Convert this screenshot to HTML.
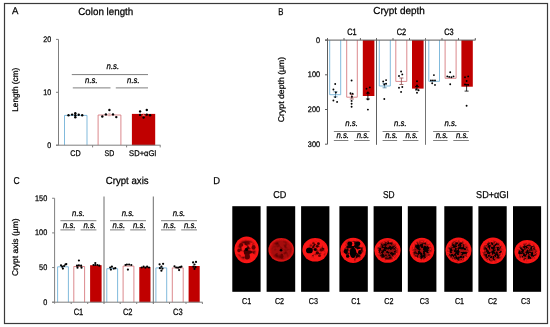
<!DOCTYPE html>
<html><head><meta charset="utf-8"><title>Figure</title>
<style>
html,body{margin:0;padding:0;background:#fff;}
body{width:550px;height:327px;overflow:hidden;}
svg{display:block;font-family:"Liberation Sans",sans-serif;text-rendering:geometricPrecision;}
</style></head><body>
<svg width="550" height="327" viewBox="0 0 550 327">
<defs>
<radialGradient id="g1" cx="50%" cy="50%" r="50%"><stop offset="0" stop-color="#e01010"/><stop offset="0.8" stop-color="#f01414"/><stop offset="0.93" stop-color="#ff1a1a"/><stop offset="1" stop-color="#a00808"/></radialGradient>
<radialGradient id="g2" cx="50%" cy="50%" r="50%"><stop offset="0" stop-color="#b00c0c"/><stop offset="0.7" stop-color="#c81010"/><stop offset="0.92" stop-color="#e81414"/><stop offset="1" stop-color="#900606"/></radialGradient>
<filter id="bl" x="-20%" y="-20%" width="140%" height="140%"><feGaussianBlur stdDeviation="0.55"/></filter>
<filter id="bl2" x="-20%" y="-20%" width="140%" height="140%"><feGaussianBlur stdDeviation="0.35"/></filter>
</defs>
<rect x="0" y="0" width="550" height="327" fill="#fff"/>
<rect x="4.5" y="3.5" width="543" height="320" fill="#fff" stroke="#3a3a3a" stroke-width="1.2"/>

<text x="12.1" y="14.3" font-size="9.8" text-anchor="start" fill="#000" stroke="#000" stroke-width="0.25" textLength="6.4" lengthAdjust="spacingAndGlyphs">A</text>
<text x="105.75" y="14.7" font-size="10.3" text-anchor="middle" fill="#000" stroke="#000" stroke-width="0.25" textLength="55" lengthAdjust="spacingAndGlyphs">Colon length</text>
<text x="17.8" y="89.75" font-size="8.3" text-anchor="middle" fill="#000" stroke="#000" stroke-width="0.25" textLength="44" lengthAdjust="spacingAndGlyphs" transform="rotate(-90 17.8 89.75)">Length (cm)</text>
<path d="M64.50 145.20V115.40H87.00V145.20" fill="none" stroke="#6aaed6" stroke-width="0.85"/>
<path d="M98.10 145.20V115.00H120.90V145.20" fill="none" stroke="#d57478" stroke-width="0.85"/>
<rect x="131.9" y="113.9" width="23.30" height="31.30" fill="#c00000"/>
<line x1="58.5" y1="39.4" x2="58.5" y2="145.2" stroke="#7f7f7f" stroke-width="1"/>
<line x1="56.0" y1="145.2" x2="160.5" y2="145.2" stroke="#7f7f7f" stroke-width="1"/>
<line x1="56.0" y1="145.2" x2="58.5" y2="145.2" stroke="#7f7f7f" stroke-width="1"/>
<text x="51.2" y="147.6" font-size="8.1" text-anchor="end" fill="#000" stroke="#000" stroke-width="0.25" textLength="3.95" lengthAdjust="spacingAndGlyphs">0</text>
<line x1="56.0" y1="92.3" x2="58.5" y2="92.3" stroke="#7f7f7f" stroke-width="1"/>
<text x="51.2" y="94.7" font-size="8.1" text-anchor="end" fill="#000" stroke="#000" stroke-width="0.25" textLength="7.9" lengthAdjust="spacingAndGlyphs">10</text>
<line x1="56.0" y1="39.400000000000006" x2="58.5" y2="39.400000000000006" stroke="#7f7f7f" stroke-width="1"/>
<text x="51.2" y="41.800000000000004" font-size="8.1" text-anchor="end" fill="#000" stroke="#000" stroke-width="0.25" textLength="7.9" lengthAdjust="spacingAndGlyphs">20</text>
<line x1="92.6" y1="145.2" x2="92.6" y2="147.39999999999998" stroke="#7f7f7f" stroke-width="1"/>
<line x1="126.6" y1="145.2" x2="126.6" y2="147.39999999999998" stroke="#7f7f7f" stroke-width="1"/>
<line x1="160.2" y1="145.2" x2="160.2" y2="147.39999999999998" stroke="#7f7f7f" stroke-width="1"/>
<circle cx="68.5" cy="115.2" r="1.2" fill="#000"/>
<circle cx="72.1" cy="114.6" r="1.2" fill="#000"/>
<circle cx="75.3" cy="113.3" r="1.2" fill="#000"/>
<circle cx="75.3" cy="115.2" r="1.2" fill="#000"/>
<circle cx="75.3" cy="117.3" r="1.2" fill="#000"/>
<circle cx="78.7" cy="114.7" r="1.2" fill="#000"/>
<circle cx="82.2" cy="115.2" r="1.2" fill="#000"/>
<line x1="109.4" y1="113.4" x2="109.4" y2="115.8" stroke="#c9a0a0" stroke-width="0.6"/>
<line x1="108.10000000000001" y1="113.4" x2="110.7" y2="113.4" stroke="#c9a0a0" stroke-width="0.6"/>
<line x1="108.10000000000001" y1="115.8" x2="110.7" y2="115.8" stroke="#c9a0a0" stroke-width="0.6"/>
<circle cx="102.3" cy="116.5" r="1.2" fill="#000"/>
<circle cx="105.9" cy="114.4" r="1.2" fill="#000"/>
<circle cx="109.4" cy="110" r="1.2" fill="#000"/>
<circle cx="113" cy="114.4" r="1.2" fill="#000"/>
<circle cx="116.3" cy="117.1" r="1.2" fill="#000"/>
<line x1="143.6" y1="113.2" x2="143.6" y2="115.6" stroke="#e9b0b0" stroke-width="0.6"/>
<line x1="142.29999999999998" y1="113.2" x2="144.9" y2="113.2" stroke="#e9b0b0" stroke-width="0.6"/>
<line x1="142.29999999999998" y1="115.6" x2="144.9" y2="115.6" stroke="#e9b0b0" stroke-width="0.6"/>
<circle cx="140.1" cy="111.4" r="1.2" fill="#000"/>
<circle cx="146.8" cy="110" r="1.2" fill="#000"/>
<circle cx="140.1" cy="114.9" r="1.2" fill="#000"/>
<circle cx="143.6" cy="117.6" r="1.2" fill="#000"/>
<circle cx="146.8" cy="114.6" r="1.2" fill="#000"/>
<circle cx="150.1" cy="115.2" r="1.2" fill="#000"/>
<line x1="71.8" y1="74.6" x2="148" y2="74.6" stroke="#7f7f7f" stroke-width="1"/>
<line x1="72.8" y1="87.9" x2="110.5" y2="87.9" stroke="#7f7f7f" stroke-width="1"/>
<line x1="115.8" y1="87.9" x2="148" y2="87.9" stroke="#7f7f7f" stroke-width="1"/>
<text x="112.9" y="69.3" font-size="8.7" text-anchor="middle" fill="#000" stroke="#000" stroke-width="0.25" font-style="italic" textLength="12.6" lengthAdjust="spacingAndGlyphs">n.s.</text>
<text x="91.4" y="82.5" font-size="8.7" text-anchor="middle" fill="#000" stroke="#000" stroke-width="0.25" font-style="italic" textLength="12.6" lengthAdjust="spacingAndGlyphs">n.s.</text>
<text x="133.4" y="82.5" font-size="8.7" text-anchor="middle" fill="#000" stroke="#000" stroke-width="0.25" font-style="italic" textLength="12.6" lengthAdjust="spacingAndGlyphs">n.s.</text>
<text x="75.4" y="156.4" font-size="8.2" text-anchor="middle" fill="#000" stroke="#000" stroke-width="0.25" textLength="10.4" lengthAdjust="spacingAndGlyphs">CD</text>
<text x="109.4" y="156.4" font-size="8.2" text-anchor="middle" fill="#000" stroke="#000" stroke-width="0.25" textLength="9.7" lengthAdjust="spacingAndGlyphs">SD</text>
<text x="142.8" y="156.4" font-size="8.2" text-anchor="middle" fill="#000" stroke="#000" stroke-width="0.25" textLength="27.4" lengthAdjust="spacingAndGlyphs">SD+αGI</text>
<text x="278.3" y="14.5" font-size="10" text-anchor="start" fill="#000" stroke="#000" stroke-width="0.25" textLength="5.2" lengthAdjust="spacingAndGlyphs">B</text>
<text x="399.1" y="14.35" font-size="10.1" text-anchor="middle" fill="#000" stroke="#000" stroke-width="0.25" textLength="51.5" lengthAdjust="spacingAndGlyphs">Crypt depth</text>
<text x="284.3" y="89.5" font-size="8.3" text-anchor="middle" fill="#000" stroke="#000" stroke-width="0.25" textLength="65.5" lengthAdjust="spacingAndGlyphs" transform="rotate(-90 284.3 89.5)">Crypt depth (µm)</text>
<path d="M329.70 40.10V94.70H340.70V40.10" fill="none" stroke="#6aaed6" stroke-width="0.85"/>
<path d="M346.70 40.10V97.20H357.30V40.10" fill="none" stroke="#d57478" stroke-width="0.85"/>
<rect x="362.8" y="40.1" width="11.60" height="55.90" fill="#c00000"/>
<path d="M379.30 40.10V86.00H390.30V40.10" fill="none" stroke="#6aaed6" stroke-width="0.85"/>
<path d="M395.80 40.10V81.40H406.80V40.10" fill="none" stroke="#d57478" stroke-width="0.85"/>
<rect x="412" y="40.1" width="11.60" height="48.50" fill="#c00000"/>
<path d="M428.80 40.10V81.30H439.50V40.10" fill="none" stroke="#6aaed6" stroke-width="0.85"/>
<path d="M445.10 40.10V78.30H456.10V40.10" fill="none" stroke="#d57478" stroke-width="0.85"/>
<rect x="461.4" y="40.1" width="11.40" height="46.60" fill="#c00000"/>
<line x1="327.5" y1="38.1" x2="327.5" y2="144.2" stroke="#5c5c5c" stroke-width="1"/>
<line x1="325.0" y1="40.1" x2="475.5" y2="40.1" stroke="#5c5c5c" stroke-width="1"/>
<line x1="325.0" y1="40.1" x2="327.5" y2="40.1" stroke="#5c5c5c" stroke-width="1"/>
<text x="320" y="42.5" font-size="8.1" text-anchor="end" fill="#000" stroke="#000" stroke-width="0.25" textLength="4.05" lengthAdjust="spacingAndGlyphs">0</text>
<line x1="325.0" y1="74.8" x2="327.5" y2="74.8" stroke="#5c5c5c" stroke-width="1"/>
<text x="320" y="77.2" font-size="8.1" text-anchor="end" fill="#000" stroke="#000" stroke-width="0.25" textLength="12.149999999999999" lengthAdjust="spacingAndGlyphs">100</text>
<line x1="325.0" y1="109.5" x2="327.5" y2="109.5" stroke="#5c5c5c" stroke-width="1"/>
<text x="320" y="111.9" font-size="8.1" text-anchor="end" fill="#000" stroke="#000" stroke-width="0.25" textLength="12.149999999999999" lengthAdjust="spacingAndGlyphs">200</text>
<line x1="325.0" y1="144.2" x2="327.5" y2="144.2" stroke="#5c5c5c" stroke-width="1"/>
<text x="320" y="146.6" font-size="8.1" text-anchor="end" fill="#000" stroke="#000" stroke-width="0.25" textLength="12.149999999999999" lengthAdjust="spacingAndGlyphs">300</text>
<line x1="344" y1="38.1" x2="344" y2="40.1" stroke="#5c5c5c" stroke-width="1"/>
<line x1="360.4" y1="38.1" x2="360.4" y2="40.1" stroke="#5c5c5c" stroke-width="1"/>
<line x1="393" y1="38.1" x2="393" y2="40.1" stroke="#5c5c5c" stroke-width="1"/>
<line x1="409.5" y1="38.1" x2="409.5" y2="40.1" stroke="#5c5c5c" stroke-width="1"/>
<line x1="442" y1="38.1" x2="442" y2="40.1" stroke="#5c5c5c" stroke-width="1"/>
<line x1="458.5" y1="38.1" x2="458.5" y2="40.1" stroke="#5c5c5c" stroke-width="1"/>
<line x1="475.3" y1="38.1" x2="475.3" y2="40.1" stroke="#5c5c5c" stroke-width="1"/>
<line x1="376.5" y1="38.1" x2="376.5" y2="144.8" stroke="#606060" stroke-width="1"/>
<line x1="425.5" y1="38.1" x2="425.5" y2="144.8" stroke="#747474" stroke-width="1"/>
<line x1="335.5" y1="91.8" x2="335.5" y2="96.8" stroke="#4d7f9e" stroke-width="0.8"/>
<line x1="333.5" y1="91.8" x2="337.5" y2="91.8" stroke="#4d7f9e" stroke-width="0.8"/>
<line x1="333.5" y1="96.8" x2="337.5" y2="96.8" stroke="#4d7f9e" stroke-width="0.8"/>
<circle cx="335.2" cy="84" r="0.95" fill="#000"/>
<circle cx="333.4" cy="89.5" r="0.95" fill="#000"/>
<circle cx="335.9" cy="92.5" r="0.95" fill="#000"/>
<circle cx="335.2" cy="97.1" r="0.95" fill="#000"/>
<circle cx="333.4" cy="100.5" r="0.95" fill="#000"/>
<circle cx="337.1" cy="101.9" r="0.95" fill="#000"/>
<line x1="351.8" y1="94.5" x2="351.8" y2="99" stroke="#8a4a4a" stroke-width="0.8"/>
<line x1="349.8" y1="94.5" x2="353.8" y2="94.5" stroke="#8a4a4a" stroke-width="0.8"/>
<line x1="349.8" y1="99" x2="353.8" y2="99" stroke="#8a4a4a" stroke-width="0.8"/>
<circle cx="351.6" cy="80.5" r="0.95" fill="#000"/>
<circle cx="350.5" cy="93.2" r="0.95" fill="#000"/>
<circle cx="352.6" cy="93.6" r="0.95" fill="#000"/>
<circle cx="351.9" cy="96.8" r="0.95" fill="#000"/>
<circle cx="351.6" cy="100.9" r="0.95" fill="#000"/>
<circle cx="351.6" cy="103.8" r="0.95" fill="#000"/>
<circle cx="351.6" cy="106.7" r="0.95" fill="#000"/>
<line x1="367.9" y1="93.2" x2="367.9" y2="99" stroke="#000" stroke-width="0.8"/>
<line x1="365.9" y1="93.2" x2="369.9" y2="93.2" stroke="#000" stroke-width="0.8"/>
<line x1="365.9" y1="99" x2="369.9" y2="99" stroke="#000" stroke-width="0.8"/>
<circle cx="366.5" cy="88.8" r="0.95" fill="#000"/>
<circle cx="369.8" cy="87.4" r="0.95" fill="#000"/>
<circle cx="367.9" cy="92.5" r="0.95" fill="#000"/>
<circle cx="367.9" cy="99.4" r="0.95" fill="#000"/>
<circle cx="367.9" cy="109.6" r="0.95" fill="#000"/>
<line x1="384.6" y1="83.6" x2="384.6" y2="87.8" stroke="#4d7f9e" stroke-width="0.8"/>
<line x1="382.6" y1="83.6" x2="386.6" y2="83.6" stroke="#4d7f9e" stroke-width="0.8"/>
<line x1="382.6" y1="87.8" x2="386.6" y2="87.8" stroke="#4d7f9e" stroke-width="0.8"/>
<circle cx="386.1" cy="80.1" r="0.95" fill="#000"/>
<circle cx="383.2" cy="81.5" r="0.95" fill="#000"/>
<circle cx="386.1" cy="83.7" r="0.95" fill="#000"/>
<circle cx="384.3" cy="84.5" r="0.95" fill="#000"/>
<circle cx="384.3" cy="99" r="0.95" fill="#000"/>
<line x1="401.4" y1="78" x2="401.4" y2="84.5" stroke="#8a4a4a" stroke-width="0.8"/>
<line x1="399.4" y1="78" x2="403.4" y2="78" stroke="#8a4a4a" stroke-width="0.8"/>
<line x1="399.4" y1="84.5" x2="403.4" y2="84.5" stroke="#8a4a4a" stroke-width="0.8"/>
<circle cx="401.1" cy="71.5" r="0.95" fill="#000"/>
<circle cx="402.3" cy="74.4" r="0.95" fill="#000"/>
<circle cx="399" cy="76" r="0.95" fill="#000"/>
<circle cx="402.3" cy="87" r="0.95" fill="#000"/>
<circle cx="399" cy="87.8" r="0.95" fill="#000"/>
<circle cx="401.1" cy="91.9" r="0.95" fill="#000"/>
<line x1="417" y1="86.5" x2="417" y2="90" stroke="#000" stroke-width="0.8"/>
<line x1="415.0" y1="86.5" x2="419.0" y2="86.5" stroke="#000" stroke-width="0.8"/>
<line x1="415.0" y1="90" x2="419.0" y2="90" stroke="#000" stroke-width="0.8"/>
<circle cx="417" cy="81.3" r="0.95" fill="#000"/>
<circle cx="417" cy="85.4" r="0.95" fill="#000"/>
<circle cx="416.2" cy="89.1" r="0.95" fill="#000"/>
<circle cx="418.6" cy="90.3" r="0.95" fill="#000"/>
<circle cx="417" cy="92.7" r="0.95" fill="#000"/>
<circle cx="433.9" cy="75.1" r="0.95" fill="#000"/>
<circle cx="430.9" cy="80.5" r="0.95" fill="#000"/>
<circle cx="432.9" cy="80.5" r="0.95" fill="#000"/>
<circle cx="435" cy="80.5" r="0.95" fill="#000"/>
<circle cx="432.2" cy="83.2" r="0.95" fill="#000"/>
<circle cx="435" cy="84.9" r="0.95" fill="#000"/>
<circle cx="450.2" cy="72.3" r="0.95" fill="#000"/>
<circle cx="447.3" cy="76.4" r="0.95" fill="#000"/>
<circle cx="449.2" cy="76.9" r="0.95" fill="#000"/>
<circle cx="451.4" cy="77.2" r="0.95" fill="#000"/>
<circle cx="453.5" cy="76.4" r="0.95" fill="#000"/>
<circle cx="450.2" cy="84.2" r="0.95" fill="#000"/>
<line x1="466.6" y1="84.5" x2="466.6" y2="91.1" stroke="#000" stroke-width="0.8"/>
<line x1="464.6" y1="84.5" x2="468.6" y2="84.5" stroke="#000" stroke-width="0.8"/>
<line x1="464.6" y1="91.1" x2="468.6" y2="91.1" stroke="#000" stroke-width="0.8"/>
<circle cx="465" cy="77.2" r="0.95" fill="#000"/>
<circle cx="468.2" cy="76.4" r="0.95" fill="#000"/>
<circle cx="466.6" cy="81" r="0.95" fill="#000"/>
<circle cx="465" cy="84.5" r="0.95" fill="#000"/>
<circle cx="468.2" cy="84.9" r="0.95" fill="#000"/>
<circle cx="466.6" cy="105.8" r="0.95" fill="#000"/>
<text x="351.9" y="34.6" font-size="9.2" text-anchor="middle" fill="#000" stroke="#000" stroke-width="0.3" textLength="9.4" lengthAdjust="spacingAndGlyphs">C1</text>
<text x="351.6" y="125.5" font-size="8.7" text-anchor="middle" fill="#000" stroke="#000" stroke-width="0.25" font-style="italic" textLength="12.6" lengthAdjust="spacingAndGlyphs">n.s.</text>
<line x1="333.85" y1="131.5" x2="369.65" y2="131.5" stroke="#7f7f7f" stroke-width="1"/>
<text x="342.75" y="138.2" font-size="8.7" text-anchor="middle" fill="#000" stroke="#000" stroke-width="0.25" font-style="italic" textLength="12.6" lengthAdjust="spacingAndGlyphs">n.s.</text>
<text x="362.95" y="138.2" font-size="8.7" text-anchor="middle" fill="#000" stroke="#000" stroke-width="0.25" font-style="italic" textLength="12.6" lengthAdjust="spacingAndGlyphs">n.s.</text>
<line x1="333.85" y1="140.5" x2="348.35" y2="140.5" stroke="#7f7f7f" stroke-width="1"/>
<line x1="354.05" y1="140.5" x2="369.65" y2="140.5" stroke="#7f7f7f" stroke-width="1"/>
<text x="401.5" y="34.6" font-size="9.2" text-anchor="middle" fill="#000" stroke="#000" stroke-width="0.3" textLength="9.4" lengthAdjust="spacingAndGlyphs">C2</text>
<text x="400.35" y="125.5" font-size="8.7" text-anchor="middle" fill="#000" stroke="#000" stroke-width="0.25" font-style="italic" textLength="12.6" lengthAdjust="spacingAndGlyphs">n.s.</text>
<line x1="382.6" y1="131.5" x2="418.4" y2="131.5" stroke="#7f7f7f" stroke-width="1"/>
<text x="391.5" y="138.2" font-size="8.7" text-anchor="middle" fill="#000" stroke="#000" stroke-width="0.25" font-style="italic" textLength="12.6" lengthAdjust="spacingAndGlyphs">n.s.</text>
<text x="411.7" y="138.2" font-size="8.7" text-anchor="middle" fill="#000" stroke="#000" stroke-width="0.25" font-style="italic" textLength="12.6" lengthAdjust="spacingAndGlyphs">n.s.</text>
<line x1="382.6" y1="140.5" x2="397.1" y2="140.5" stroke="#7f7f7f" stroke-width="1"/>
<line x1="402.8" y1="140.5" x2="418.4" y2="140.5" stroke="#7f7f7f" stroke-width="1"/>
<text x="449.0" y="34.6" font-size="9.2" text-anchor="middle" fill="#000" stroke="#000" stroke-width="0.3" textLength="9.4" lengthAdjust="spacingAndGlyphs">C3</text>
<text x="450.85" y="125.5" font-size="8.7" text-anchor="middle" fill="#000" stroke="#000" stroke-width="0.25" font-style="italic" textLength="12.6" lengthAdjust="spacingAndGlyphs">n.s.</text>
<line x1="433.1" y1="131.5" x2="468.9" y2="131.5" stroke="#7f7f7f" stroke-width="1"/>
<text x="442.0" y="138.2" font-size="8.7" text-anchor="middle" fill="#000" stroke="#000" stroke-width="0.25" font-style="italic" textLength="12.6" lengthAdjust="spacingAndGlyphs">n.s.</text>
<text x="462.2" y="138.2" font-size="8.7" text-anchor="middle" fill="#000" stroke="#000" stroke-width="0.25" font-style="italic" textLength="12.6" lengthAdjust="spacingAndGlyphs">n.s.</text>
<line x1="433.1" y1="140.5" x2="447.6" y2="140.5" stroke="#7f7f7f" stroke-width="1"/>
<line x1="453.3" y1="140.5" x2="468.9" y2="140.5" stroke="#7f7f7f" stroke-width="1"/>
<text x="13.5" y="183.8" font-size="10" text-anchor="start" fill="#000" stroke="#000" stroke-width="0.25" textLength="6.2" lengthAdjust="spacingAndGlyphs">C</text>
<text x="127.2" y="183.5" font-size="10.2" text-anchor="middle" fill="#000" stroke="#000" stroke-width="0.25" textLength="42.8" lengthAdjust="spacingAndGlyphs">Crypt axis</text>
<text x="18.2" y="247.3" font-size="8.3" text-anchor="middle" fill="#000" stroke="#000" stroke-width="0.25" textLength="57.6" lengthAdjust="spacingAndGlyphs" transform="rotate(-90 18.2 247.3)">Crypt axis (µm)</text>
<path d="M57.60 302.20V266.80H68.40V302.20" fill="none" stroke="#6aaed6" stroke-width="0.85"/>
<path d="M73.80 302.20V266.50H84.60V302.20" fill="none" stroke="#d57478" stroke-width="0.85"/>
<rect x="90.1" y="265.2" width="11.50" height="37.00" fill="#c00000"/>
<path d="M106.80 302.20V268.70H117.60V302.20" fill="none" stroke="#6aaed6" stroke-width="0.85"/>
<path d="M123.10 302.20V266.10H133.90V302.20" fill="none" stroke="#d57478" stroke-width="0.85"/>
<rect x="139.3" y="267.1" width="11.20" height="35.10" fill="#c00000"/>
<path d="M155.90 302.20V267.90H166.70V302.20" fill="none" stroke="#6aaed6" stroke-width="0.85"/>
<path d="M172.30 302.20V267.90H183.20V302.20" fill="none" stroke="#d57478" stroke-width="0.85"/>
<rect x="188.6" y="266" width="11.10" height="36.20" fill="#c00000"/>
<line x1="54.6" y1="198.25" x2="54.6" y2="303.7" stroke="#7f7f7f" stroke-width="1"/>
<line x1="52.1" y1="302.2" x2="202.6" y2="302.2" stroke="#7f7f7f" stroke-width="1"/>
<line x1="52.1" y1="302.2" x2="54.6" y2="302.2" stroke="#7f7f7f" stroke-width="1"/>
<text x="47.2" y="304.59999999999997" font-size="8.1" text-anchor="end" fill="#000" stroke="#000" stroke-width="0.25" textLength="4.05" lengthAdjust="spacingAndGlyphs">0</text>
<line x1="52.1" y1="267.55" x2="54.6" y2="267.55" stroke="#7f7f7f" stroke-width="1"/>
<text x="47.2" y="269.95" font-size="8.1" text-anchor="end" fill="#000" stroke="#000" stroke-width="0.25" textLength="8.1" lengthAdjust="spacingAndGlyphs">50</text>
<line x1="52.1" y1="232.89999999999998" x2="54.6" y2="232.89999999999998" stroke="#7f7f7f" stroke-width="1"/>
<text x="47.2" y="235.29999999999998" font-size="8.1" text-anchor="end" fill="#000" stroke="#000" stroke-width="0.25" textLength="12.149999999999999" lengthAdjust="spacingAndGlyphs">100</text>
<line x1="52.1" y1="198.25" x2="54.6" y2="198.25" stroke="#7f7f7f" stroke-width="1"/>
<text x="47.2" y="200.65" font-size="8.1" text-anchor="end" fill="#000" stroke="#000" stroke-width="0.25" textLength="12.149999999999999" lengthAdjust="spacingAndGlyphs">150</text>
<line x1="71.2" y1="302.2" x2="71.2" y2="304.0" stroke="#7f7f7f" stroke-width="1"/>
<line x1="87.7" y1="302.2" x2="87.7" y2="304.0" stroke="#7f7f7f" stroke-width="1"/>
<line x1="120.2" y1="302.2" x2="120.2" y2="304.0" stroke="#7f7f7f" stroke-width="1"/>
<line x1="136.7" y1="302.2" x2="136.7" y2="304.0" stroke="#7f7f7f" stroke-width="1"/>
<line x1="169.5" y1="302.2" x2="169.5" y2="304.0" stroke="#7f7f7f" stroke-width="1"/>
<line x1="186" y1="302.2" x2="186" y2="304.0" stroke="#7f7f7f" stroke-width="1"/>
<line x1="202.4" y1="302.2" x2="202.4" y2="304.0" stroke="#7f7f7f" stroke-width="1"/>
<line x1="104" y1="196.5" x2="104" y2="304.0" stroke="#6c6c6c" stroke-width="1"/>
<line x1="153.3" y1="196.5" x2="153.3" y2="304.0" stroke="#6c6c6c" stroke-width="1"/>
<circle cx="61" cy="265.3" r="1.1" fill="#000"/>
<circle cx="62.2" cy="266.7" r="1.1" fill="#000"/>
<circle cx="62.9" cy="268.6" r="1.1" fill="#000"/>
<circle cx="64.1" cy="266" r="1.1" fill="#000"/>
<circle cx="65.4" cy="264.5" r="1.1" fill="#000"/>
<circle cx="66.3" cy="264.1" r="1.1" fill="#000"/>
<circle cx="78.9" cy="260.5" r="1.1" fill="#000"/>
<circle cx="77" cy="265.7" r="1.1" fill="#000"/>
<circle cx="78.9" cy="265.3" r="1.1" fill="#000"/>
<circle cx="81.1" cy="265.7" r="1.1" fill="#000"/>
<circle cx="77.5" cy="267.7" r="1.1" fill="#000"/>
<circle cx="81.5" cy="267.7" r="1.1" fill="#000"/>
<circle cx="95.3" cy="263.1" r="1.1" fill="#000"/>
<circle cx="93.5" cy="265" r="1.1" fill="#000"/>
<circle cx="95.3" cy="265" r="1.1" fill="#000"/>
<circle cx="97.4" cy="265" r="1.1" fill="#000"/>
<circle cx="99.3" cy="265.7" r="1.1" fill="#000"/>
<circle cx="110.2" cy="267.5" r="1.1" fill="#000"/>
<circle cx="111.9" cy="266.7" r="1.1" fill="#000"/>
<circle cx="113.8" cy="268.6" r="1.1" fill="#000"/>
<circle cx="115.3" cy="268.2" r="1.1" fill="#000"/>
<circle cx="110.9" cy="269.6" r="1.1" fill="#000"/>
<circle cx="125.5" cy="265" r="1.1" fill="#000"/>
<circle cx="126.9" cy="264.5" r="1.1" fill="#000"/>
<circle cx="129.1" cy="264.5" r="1.1" fill="#000"/>
<circle cx="131.3" cy="265" r="1.1" fill="#000"/>
<circle cx="127.9" cy="269.6" r="1.1" fill="#000"/>
<circle cx="141.7" cy="267.5" r="1.1" fill="#000"/>
<circle cx="143.6" cy="266.7" r="1.1" fill="#000"/>
<circle cx="145.4" cy="267.7" r="1.1" fill="#000"/>
<circle cx="147.1" cy="266.7" r="1.1" fill="#000"/>
<circle cx="149" cy="267.5" r="1.1" fill="#000"/>
<circle cx="159.6" cy="264.3" r="1.1" fill="#000"/>
<circle cx="163.1" cy="263.8" r="1.1" fill="#000"/>
<circle cx="161.4" cy="266.7" r="1.1" fill="#000"/>
<circle cx="159.9" cy="268.2" r="1.1" fill="#000"/>
<circle cx="162.5" cy="268.6" r="1.1" fill="#000"/>
<circle cx="161.4" cy="270.7" r="1.1" fill="#000"/>
<circle cx="174.5" cy="266.3" r="1.1" fill="#000"/>
<circle cx="176.2" cy="267.5" r="1.1" fill="#000"/>
<circle cx="178.1" cy="267.7" r="1.1" fill="#000"/>
<circle cx="180" cy="267.2" r="1.1" fill="#000"/>
<circle cx="181.4" cy="266.7" r="1.1" fill="#000"/>
<circle cx="179.1" cy="270.1" r="1.1" fill="#000"/>
<circle cx="193.1" cy="262.4" r="1.1" fill="#000"/>
<circle cx="196" cy="261.9" r="1.1" fill="#000"/>
<circle cx="194.5" cy="264.5" r="1.1" fill="#000"/>
<circle cx="193.4" cy="266.7" r="1.1" fill="#000"/>
<circle cx="195.5" cy="267.2" r="1.1" fill="#000"/>
<circle cx="194.5" cy="268.9" r="1.1" fill="#000"/>
<text x="78.5" y="315.4" font-size="9.2" text-anchor="middle" fill="#000" stroke="#000" stroke-width="0.25" textLength="9.6" lengthAdjust="spacingAndGlyphs">C1</text>
<text x="78.4" y="215.8" font-size="8.7" text-anchor="middle" fill="#000" stroke="#000" stroke-width="0.25" font-style="italic" textLength="12.6" lengthAdjust="spacingAndGlyphs">n.s.</text>
<line x1="60.400000000000006" y1="220.7" x2="96.4" y2="220.7" stroke="#7f7f7f" stroke-width="1"/>
<text x="69.30000000000001" y="227.6" font-size="8.7" text-anchor="middle" fill="#000" stroke="#000" stroke-width="0.25" font-style="italic" textLength="12.6" lengthAdjust="spacingAndGlyphs">n.s.</text>
<text x="89.7" y="227.6" font-size="8.7" text-anchor="middle" fill="#000" stroke="#000" stroke-width="0.25" font-style="italic" textLength="12.6" lengthAdjust="spacingAndGlyphs">n.s.</text>
<line x1="60.400000000000006" y1="229.9" x2="75.0" y2="229.9" stroke="#7f7f7f" stroke-width="1"/>
<line x1="80.60000000000001" y1="229.9" x2="96.4" y2="229.9" stroke="#7f7f7f" stroke-width="1"/>
<text x="127.7" y="315.4" font-size="9.2" text-anchor="middle" fill="#000" stroke="#000" stroke-width="0.25" textLength="9.6" lengthAdjust="spacingAndGlyphs">C2</text>
<text x="128" y="215.8" font-size="8.7" text-anchor="middle" fill="#000" stroke="#000" stroke-width="0.25" font-style="italic" textLength="12.6" lengthAdjust="spacingAndGlyphs">n.s.</text>
<line x1="110" y1="220.7" x2="146" y2="220.7" stroke="#7f7f7f" stroke-width="1"/>
<text x="118.9" y="227.6" font-size="8.7" text-anchor="middle" fill="#000" stroke="#000" stroke-width="0.25" font-style="italic" textLength="12.6" lengthAdjust="spacingAndGlyphs">n.s.</text>
<text x="139.3" y="227.6" font-size="8.7" text-anchor="middle" fill="#000" stroke="#000" stroke-width="0.25" font-style="italic" textLength="12.6" lengthAdjust="spacingAndGlyphs">n.s.</text>
<line x1="110" y1="229.9" x2="124.6" y2="229.9" stroke="#7f7f7f" stroke-width="1"/>
<line x1="130.2" y1="229.9" x2="146" y2="229.9" stroke="#7f7f7f" stroke-width="1"/>
<text x="177.9" y="315.4" font-size="9.2" text-anchor="middle" fill="#000" stroke="#000" stroke-width="0.25" textLength="9.6" lengthAdjust="spacingAndGlyphs">C3</text>
<text x="179" y="215.8" font-size="8.7" text-anchor="middle" fill="#000" stroke="#000" stroke-width="0.25" font-style="italic" textLength="12.6" lengthAdjust="spacingAndGlyphs">n.s.</text>
<line x1="161" y1="220.7" x2="197" y2="220.7" stroke="#7f7f7f" stroke-width="1"/>
<text x="169.9" y="227.6" font-size="8.7" text-anchor="middle" fill="#000" stroke="#000" stroke-width="0.25" font-style="italic" textLength="12.6" lengthAdjust="spacingAndGlyphs">n.s.</text>
<text x="190.3" y="227.6" font-size="8.7" text-anchor="middle" fill="#000" stroke="#000" stroke-width="0.25" font-style="italic" textLength="12.6" lengthAdjust="spacingAndGlyphs">n.s.</text>
<line x1="161" y1="229.9" x2="175.6" y2="229.9" stroke="#7f7f7f" stroke-width="1"/>
<line x1="181.2" y1="229.9" x2="197" y2="229.9" stroke="#7f7f7f" stroke-width="1"/>
<text x="213.2" y="183.8" font-size="10" text-anchor="start" fill="#000" stroke="#000" stroke-width="0.25" textLength="6.8" lengthAdjust="spacingAndGlyphs">D</text>
<text x="279.8" y="198.3" font-size="10" text-anchor="middle" fill="#000" stroke="#000" stroke-width="0.25" textLength="13.1" lengthAdjust="spacingAndGlyphs">CD</text>
<text x="388.8" y="198.3" font-size="10" text-anchor="middle" fill="#000" stroke="#000" stroke-width="0.25" textLength="11.6" lengthAdjust="spacingAndGlyphs">SD</text>
<text x="492.5" y="198.3" font-size="10" text-anchor="middle" fill="#000" stroke="#000" stroke-width="0.25" textLength="32.8" lengthAdjust="spacingAndGlyphs">SD+αGI</text>
<rect x="232.3" y="206.2" width="28.30" height="85.6" fill="#000"/>
<text x="246.7" y="303.5" font-size="8.6" text-anchor="middle" fill="#000" stroke="#000" stroke-width="0.25" textLength="9.2" lengthAdjust="spacingAndGlyphs">C1</text>
<rect x="266.6" y="206.2" width="28.60" height="85.6" fill="#000"/>
<text x="279.5" y="303.5" font-size="8.6" text-anchor="middle" fill="#000" stroke="#000" stroke-width="0.25" textLength="9.2" lengthAdjust="spacingAndGlyphs">C2</text>
<rect x="301.1" y="206.2" width="28.30" height="85.6" fill="#000"/>
<text x="313.3" y="303.5" font-size="8.6" text-anchor="middle" fill="#000" stroke="#000" stroke-width="0.25" textLength="9.2" lengthAdjust="spacingAndGlyphs">C3</text>
<rect x="339.4" y="206.2" width="28.40" height="85.6" fill="#000"/>
<text x="355.8" y="303.5" font-size="8.6" text-anchor="middle" fill="#000" stroke="#000" stroke-width="0.25" textLength="9.2" lengthAdjust="spacingAndGlyphs">C1</text>
<rect x="373.6" y="206.2" width="28.40" height="85.6" fill="#000"/>
<text x="388.9" y="303.5" font-size="8.6" text-anchor="middle" fill="#000" stroke="#000" stroke-width="0.25" textLength="9.2" lengthAdjust="spacingAndGlyphs">C2</text>
<rect x="407.8" y="206.2" width="28.60" height="85.6" fill="#000"/>
<text x="424.4" y="303.5" font-size="8.6" text-anchor="middle" fill="#000" stroke="#000" stroke-width="0.25" textLength="9.2" lengthAdjust="spacingAndGlyphs">C3</text>
<rect x="444.3" y="206.2" width="28.30" height="85.6" fill="#000"/>
<text x="459.5" y="303.5" font-size="8.6" text-anchor="middle" fill="#000" stroke="#000" stroke-width="0.25" textLength="9.2" lengthAdjust="spacingAndGlyphs">C1</text>
<rect x="478.4" y="206.2" width="28.30" height="85.6" fill="#000"/>
<text x="492.5" y="303.5" font-size="8.6" text-anchor="middle" fill="#000" stroke="#000" stroke-width="0.25" textLength="9.2" lengthAdjust="spacingAndGlyphs">C2</text>
<rect x="513" y="206.2" width="28.10" height="85.6" fill="#000"/>
<text x="525.7" y="303.5" font-size="8.6" text-anchor="middle" fill="#000" stroke="#000" stroke-width="0.25" textLength="9.2" lengthAdjust="spacingAndGlyphs">C3</text>
<filter id="tx1" x="-10%" y="-10%" width="120%" height="120%" color-interpolation-filters="sRGB"><feTurbulence type="fractalNoise" baseFrequency="0.2" numOctaves="2" seed="11" result="t"/><feColorMatrix in="t" type="matrix" values="0 0 0 0 0.28  0 0 0 0 0  0 0 0 0 0  5 0 0 0 -2.1" result="d"/><feGaussianBlur in="SourceAlpha" stdDeviation="1.0" result="m"/><feComposite in="d" in2="m" operator="in"/></filter>
<g filter="url(#bl2)"><ellipse cx="246.6" cy="249.8" rx="12.2" ry="13.4" fill="#fa1414"/></g>
<ellipse cx="246.6" cy="249.8" rx="8.8" ry="9.6" fill="#000" filter="url(#tx1)"/>
<g filter="url(#bl)">
<ellipse cx="246.5" cy="249.6" rx="1.5" ry="1.5" fill="#000"/>
<ellipse cx="247.3" cy="256.6" rx="2.6" ry="3.0" fill="#5a0000"/>
<ellipse cx="241.2" cy="244.9" rx="2.2" ry="1.8" fill="#6a0000"/>
<ellipse cx="238.9" cy="250.4" rx="1.6" ry="1.9" fill="#6a0000"/>
<ellipse cx="247.6" cy="243.2" rx="1.6" ry="1.4" fill="#6a0000"/>
<ellipse cx="253.6" cy="247.2" rx="2.0" ry="2.3" fill="#6a0000"/>
</g>
<filter id="tx2" x="-10%" y="-10%" width="120%" height="120%" color-interpolation-filters="sRGB"><feTurbulence type="fractalNoise" baseFrequency="0.2" numOctaves="2" seed="5" result="t"/><feColorMatrix in="t" type="matrix" values="0 0 0 0 0.35  0 0 0 0 0  0 0 0 0 0  3 0 0 0 -1.3" result="d"/><feGaussianBlur in="SourceAlpha" stdDeviation="1.0" result="m"/><feComposite in="d" in2="m" operator="in"/></filter>
<radialGradient id="rg2"><stop offset="0" stop-color="#a60c0c"/><stop offset="0.72" stop-color="#a60c0c"/><stop offset="0.9" stop-color="#d41212"/><stop offset="1" stop-color="#d41212"/></radialGradient>
<g filter="url(#bl2)"><ellipse cx="281.2" cy="249.9" rx="12.8" ry="11.9" fill="url(#rg2)"/></g>
<ellipse cx="281.2" cy="249.9" rx="9.5" ry="8.8" fill="#000" filter="url(#tx2)"/>
<g filter="url(#bl)">
<ellipse cx="281.1" cy="250.2" rx="1.3" ry="1.3" fill="#000"/>
<ellipse cx="281.8" cy="256.2" rx="1.6" ry="2.6" fill="#6a0000"/>
</g>
<filter id="tx3" x="-10%" y="-10%" width="120%" height="120%" color-interpolation-filters="sRGB"><feTurbulence type="fractalNoise" baseFrequency="0.25" numOctaves="2" seed="23" result="t"/><feColorMatrix in="t" type="matrix" values="0 0 0 0 0.2  0 0 0 0 0  0 0 0 0 0  4 0 0 0 -1.9" result="d"/><feGaussianBlur in="SourceAlpha" stdDeviation="1.0" result="m"/><feComposite in="d" in2="m" operator="in"/></filter>
<g filter="url(#bl2)"><ellipse cx="315.2" cy="249.8" rx="12.8" ry="11.8" fill="#fa1414"/></g>
<ellipse cx="317.2" cy="249.8" rx="8.5" ry="8" fill="#000" filter="url(#tx3)"/>
<g filter="url(#bl)">
<ellipse cx="309.4" cy="250.4" rx="3.4" ry="2.9" fill="#000"/>
<ellipse cx="315.1" cy="249.6" rx="1.4" ry="1.4" fill="#000"/>
<ellipse cx="318.4" cy="243.6" rx="1.4" ry="1.4" fill="#3a0000"/>
<ellipse cx="317.3" cy="246.3" rx="1.5" ry="1.4" fill="#3a0000"/>
<ellipse cx="317.3" cy="252.9" rx="1.7" ry="1.7" fill="#3a0000"/>
<ellipse cx="319.5" cy="255.7" rx="1.5" ry="1.3" fill="#6a0000"/>
<ellipse cx="321.7" cy="250.2" rx="1.3" ry="1.4" fill="#6a0000"/>
<ellipse cx="313.4" cy="243.2" rx="1.3" ry="1.0" fill="#6a0000"/>
</g>
<filter id="tx4" x="-10%" y="-10%" width="120%" height="120%" color-interpolation-filters="sRGB"><feTurbulence type="fractalNoise" baseFrequency="0.22" numOctaves="2" seed="31" result="t"/><feColorMatrix in="t" type="matrix" values="0 0 0 0 0.05  0 0 0 0 0  0 0 0 0 0  6 0 0 0 -2.85" result="d"/><feGaussianBlur in="SourceAlpha" stdDeviation="1.0" result="m"/><feComposite in="d" in2="m" operator="in"/></filter>
<g filter="url(#bl2)"><ellipse cx="353.2" cy="250.4" rx="12.8" ry="12.6" fill="#fa1414"/></g>
<ellipse cx="353.2" cy="250.4" rx="9.8" ry="9.8" fill="#000" filter="url(#tx4)"/>
<g filter="url(#bl)">
<ellipse cx="353.1" cy="252.8" rx="3.3" ry="5.2" fill="#000"/>
<ellipse cx="349.8" cy="243.8" rx="2.6" ry="2.2" fill="#000"/>
<ellipse cx="358" cy="243.8" rx="2.4" ry="2.2" fill="#000"/>
<ellipse cx="345.6" cy="251.3" rx="1.9" ry="2.2" fill="#000"/>
<ellipse cx="359.9" cy="252.4" rx="1.9" ry="2.4" fill="#000"/>
<ellipse cx="347.6" cy="256.2" rx="1.6" ry="1.6" fill="#000"/>
</g>
<filter id="tx5" x="-10%" y="-10%" width="120%" height="120%" color-interpolation-filters="sRGB"><feTurbulence type="fractalNoise" baseFrequency="0.38" numOctaves="2" seed="7" result="t"/><feColorMatrix in="t" type="matrix" values="0 0 0 0 0.05  0 0 0 0 0  0 0 0 0 0  6 0 0 0 -2.5" result="d"/><feGaussianBlur in="SourceAlpha" stdDeviation="1.0" result="m"/><feComposite in="d" in2="m" operator="in"/></filter>
<g filter="url(#bl2)"><ellipse cx="387.5" cy="250.4" rx="13.1" ry="12.4" fill="#fa1414"/></g>
<g filter="url(#bl)"><ellipse cx="387.5" cy="250.4" rx="9.0" ry="8.6" fill="#000" fill-opacity="0.42"/></g>
<ellipse cx="387.5" cy="250.4" rx="9.6" ry="9.2" fill="#000" filter="url(#tx5)"/>
<filter id="tx6" x="-10%" y="-10%" width="120%" height="120%" color-interpolation-filters="sRGB"><feTurbulence type="fractalNoise" baseFrequency="0.38" numOctaves="2" seed="13" result="t"/><feColorMatrix in="t" type="matrix" values="0 0 0 0 0.05  0 0 0 0 0  0 0 0 0 0  6 0 0 0 -2.55" result="d"/><feGaussianBlur in="SourceAlpha" stdDeviation="1.0" result="m"/><feComposite in="d" in2="m" operator="in"/></filter>
<g filter="url(#bl2)"><ellipse cx="421.9" cy="250.2" rx="12.4" ry="12.4" fill="#fa1414"/></g>
<g filter="url(#bl)"><ellipse cx="421.9" cy="250.2" rx="8.200000000000001" ry="8.4" fill="#000" fill-opacity="0.36"/></g>
<ellipse cx="421.9" cy="250.2" rx="8.8" ry="9.0" fill="#000" filter="url(#tx6)"/>
<g filter="url(#bl)">
<ellipse cx="421.5" cy="255.5" rx="1.0" ry="3.0" fill="#000"/>
<ellipse cx="418.3" cy="247" rx="1.6" ry="2.4" fill="#000"/>
<ellipse cx="424.8" cy="248" rx="1.6" ry="2.2" fill="#000"/>
</g>
<filter id="tx7" x="-10%" y="-10%" width="120%" height="120%" color-interpolation-filters="sRGB"><feTurbulence type="fractalNoise" baseFrequency="0.42" numOctaves="2" seed="17" result="t"/><feColorMatrix in="t" type="matrix" values="0 0 0 0 0.05  0 0 0 0 0  0 0 0 0 0  6 0 0 0 -2.55" result="d"/><feGaussianBlur in="SourceAlpha" stdDeviation="1.0" result="m"/><feComposite in="d" in2="m" operator="in"/></filter>
<g filter="url(#bl2)"><ellipse cx="458.5" cy="250.4" rx="13" ry="13" fill="#fa1414"/></g>
<g filter="url(#bl)"><ellipse cx="458.1" cy="251.0" rx="9.200000000000001" ry="9.4" fill="#000" fill-opacity="0.35"/></g>
<ellipse cx="458.1" cy="251.0" rx="9.8" ry="10" fill="#000" filter="url(#tx7)"/>
<g filter="url(#bl)">
<ellipse cx="463.68" cy="252.83" rx="1.0" ry="1.0" fill="#000"/>
<ellipse cx="461.03" cy="256.77" rx="1.0" ry="1.0" fill="#000"/>
<ellipse cx="456.37" cy="257.68" rx="1.0" ry="1.0" fill="#000"/>
<ellipse cx="452.43" cy="255.03" rx="1.0" ry="1.0" fill="#000"/>
<ellipse cx="451.52" cy="250.37" rx="1.0" ry="1.0" fill="#000"/>
<ellipse cx="454.17" cy="246.43" rx="1.0" ry="1.0" fill="#000"/>
<ellipse cx="458.83" cy="245.52" rx="1.0" ry="1.0" fill="#000"/>
<ellipse cx="462.77" cy="248.17" rx="1.0" ry="1.0" fill="#000"/>
<ellipse cx="457.6" cy="252.0" rx="1.9" ry="1.9" fill="#000"/>
</g>
<filter id="tx8" x="-10%" y="-10%" width="120%" height="120%" color-interpolation-filters="sRGB"><feTurbulence type="fractalNoise" baseFrequency="0.42" numOctaves="2" seed="19" result="t"/><feColorMatrix in="t" type="matrix" values="0 0 0 0 0.05  0 0 0 0 0  0 0 0 0 0  6 0 0 0 -2.55" result="d"/><feGaussianBlur in="SourceAlpha" stdDeviation="1.0" result="m"/><feComposite in="d" in2="m" operator="in"/></filter>
<g filter="url(#bl2)"><ellipse cx="493" cy="250.7" rx="13" ry="13.3" fill="#fa1414"/></g>
<g filter="url(#bl)"><ellipse cx="492.7" cy="251.29999999999998" rx="8.8" ry="9.200000000000001" fill="#000" fill-opacity="0.3"/></g>
<ellipse cx="492.7" cy="251.29999999999998" rx="9.4" ry="9.8" fill="#000" filter="url(#tx8)"/>
<g filter="url(#bl)">
<ellipse cx="497.51" cy="254.28" rx="0.9" ry="1.1" fill="#000"/>
<ellipse cx="493.57" cy="257.12" rx="0.9" ry="1.1" fill="#000"/>
<ellipse cx="488.89" cy="255.79" rx="0.9" ry="1.1" fill="#000"/>
<ellipse cx="487.01" cy="251.31" rx="0.9" ry="1.1" fill="#000"/>
<ellipse cx="489.34" cy="247.05" rx="0.9" ry="1.1" fill="#000"/>
<ellipse cx="494.12" cy="246.21" rx="0.9" ry="1.1" fill="#000"/>
<ellipse cx="497.76" cy="249.43" rx="0.9" ry="1.1" fill="#000"/>
<ellipse cx="492.7" cy="252.0" rx="1.4" ry="1.4" fill="#000"/>
</g>
<filter id="tx9" x="-10%" y="-10%" width="120%" height="120%" color-interpolation-filters="sRGB"><feTurbulence type="fractalNoise" baseFrequency="0.42" numOctaves="2" seed="29" result="t"/><feColorMatrix in="t" type="matrix" values="0 0 0 0 0.05  0 0 0 0 0  0 0 0 0 0  6 0 0 0 -2.6" result="d"/><feGaussianBlur in="SourceAlpha" stdDeviation="1.0" result="m"/><feComposite in="d" in2="m" operator="in"/></filter>
<g filter="url(#bl2)"><ellipse cx="527.2" cy="251.7" rx="12.8" ry="11.7" fill="#fa1414"/></g>
<g filter="url(#bl)"><ellipse cx="527.4000000000001" cy="252.1" rx="8.6" ry="7.6" fill="#000" fill-opacity="0.28"/></g>
<ellipse cx="527.4000000000001" cy="252.1" rx="9.2" ry="8.2" fill="#000" filter="url(#tx9)"/>
<g filter="url(#bl)">
<ellipse cx="519.6" cy="252.4" rx="1.1" ry="2.1" fill="#000"/>
<ellipse cx="532.19" cy="253.42" rx="0.9" ry="1.3" fill="#000"/>
<ellipse cx="528.66" cy="256.68" rx="0.9" ry="1.3" fill="#000"/>
<ellipse cx="524.08" cy="255.26" rx="0.9" ry="1.3" fill="#000"/>
<ellipse cx="523.01" cy="250.58" rx="0.9" ry="1.3" fill="#000"/>
<ellipse cx="526.54" cy="247.32" rx="0.9" ry="1.3" fill="#000"/>
<ellipse cx="531.12" cy="248.74" rx="0.9" ry="1.3" fill="#000"/>
<ellipse cx="527.4" cy="251.4" rx="1.0" ry="1.4" fill="#000"/>
</g>
</svg></body></html>
